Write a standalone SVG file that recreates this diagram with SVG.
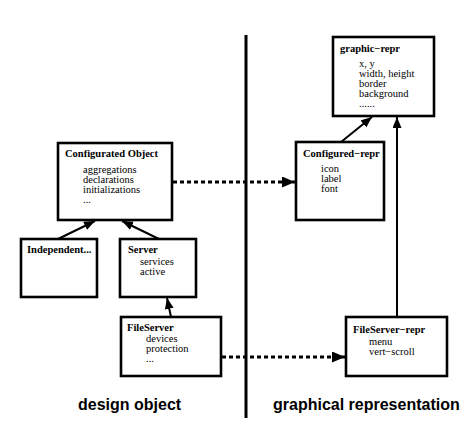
<svg xmlns="http://www.w3.org/2000/svg" width="474" height="447" viewBox="0 0 474 447">
<defs>
<style>
.box{fill:#fff;stroke:#000;stroke-width:2.6}
.t{font-family:"Liberation Serif","Times New Roman",serif;font-size:10.5px;font-weight:bold;fill:#000}
.a{font-family:"Liberation Serif","Times New Roman",serif;font-size:10.5px;fill:#000}
.lab{font-family:"Liberation Sans",Arial,sans-serif;font-size:16px;font-weight:bold;fill:#000}
.solid{stroke:#000;stroke-width:2;fill:none}
.dash{stroke:#000;stroke-width:3;fill:none;stroke-dasharray:4 3}
</style>
<marker id="ah" markerUnits="userSpaceOnUse" markerWidth="12" markerHeight="10" refX="11" refY="4.5" orient="auto">
<path d="M0,0 L11,4.5 L0,9 z" fill="#000"/>
</marker>
<marker id="ahb" markerUnits="userSpaceOnUse" markerWidth="14" markerHeight="12" refX="13" refY="5.5" orient="auto">
<path d="M0,0 L13,5.5 L0,11 z" fill="#000"/>
</marker>
</defs>
<rect width="474" height="447" fill="#fff"/>
<line x1="246" y1="35" x2="246" y2="418" stroke="#000" stroke-width="3"/>
<g id="connectors">
<line class="solid" x1="58" y1="239" x2="95" y2="221" marker-end="url(#ah)"/>
<line class="solid" x1="159" y1="239" x2="122" y2="221" marker-end="url(#ah)"/>
<line class="solid" x1="171" y1="317" x2="167" y2="298" marker-end="url(#ah)"/>
<line class="solid" x1="341" y1="142" x2="372" y2="117" marker-end="url(#ah)"/>
<line class="solid" x1="397" y1="317" x2="397" y2="117" marker-end="url(#ah)"/>
<line class="dash" x1="173" y1="182" x2="295" y2="182" marker-end="url(#ahb)"/>
<line class="dash" x1="222" y1="357" x2="345" y2="357" marker-end="url(#ahb)"/>
</g>
<g id="configurated-object">
<rect class="box" x="58" y="143" width="114" height="77"/>
<text class="t" x="65" y="157">Configurated Object</text>
<text class="a" x="83" y="173">aggregations</text>
<text class="a" x="83" y="183">declarations</text>
<text class="a" x="83" y="193">initializations</text>
<text class="a" x="83" y="203">...</text>
</g>
<g id="independent">
<rect class="box" x="21" y="239" width="76" height="58"/>
<text class="t" x="27" y="253">Independent...</text>
</g>
<g id="server">
<rect class="box" x="120" y="239" width="76" height="58"/>
<text class="t" x="128" y="253">Server</text>
<text class="a" x="140" y="265">services</text>
<text class="a" x="140" y="275">active</text>
</g>
<g id="fileserver">
<rect class="box" x="121" y="317" width="100" height="59"/>
<text class="t" x="127" y="331">FileServer</text>
<text class="a" x="146" y="342">devices</text>
<text class="a" x="146" y="352">protection</text>
<text class="a" x="146" y="362">...</text>
</g>
<g id="graphic-repr">
<rect class="box" x="333" y="37" width="101" height="79"/>
<text class="t" x="340" y="52">graphic−repr</text>
<text class="a" x="359" y="67">x, y</text>
<text class="a" x="359" y="77">width, height</text>
<text class="a" x="359" y="87">border</text>
<text class="a" x="359" y="97">background</text>
<text class="a" x="359" y="107">......</text>
</g>
<g id="configured-repr">
<rect class="box" x="296" y="142" width="88" height="78"/>
<text class="t" x="303" y="157">Configured−repr</text>
<text class="a" x="321" y="172">icon</text>
<text class="a" x="321" y="182">label</text>
<text class="a" x="321" y="192">font</text>
</g>
<g id="fileserver-repr">
<rect class="box" x="346" y="317" width="101" height="59"/>
<text class="t" x="353" y="333">FileServer−repr</text>
<text class="a" x="369" y="345">menu</text>
<text class="a" x="369" y="355">vert−scroll</text>
</g>
<text class="lab" x="78" y="410">design object</text>
<text class="lab" x="273" y="410">graphical representation</text>
</svg>
